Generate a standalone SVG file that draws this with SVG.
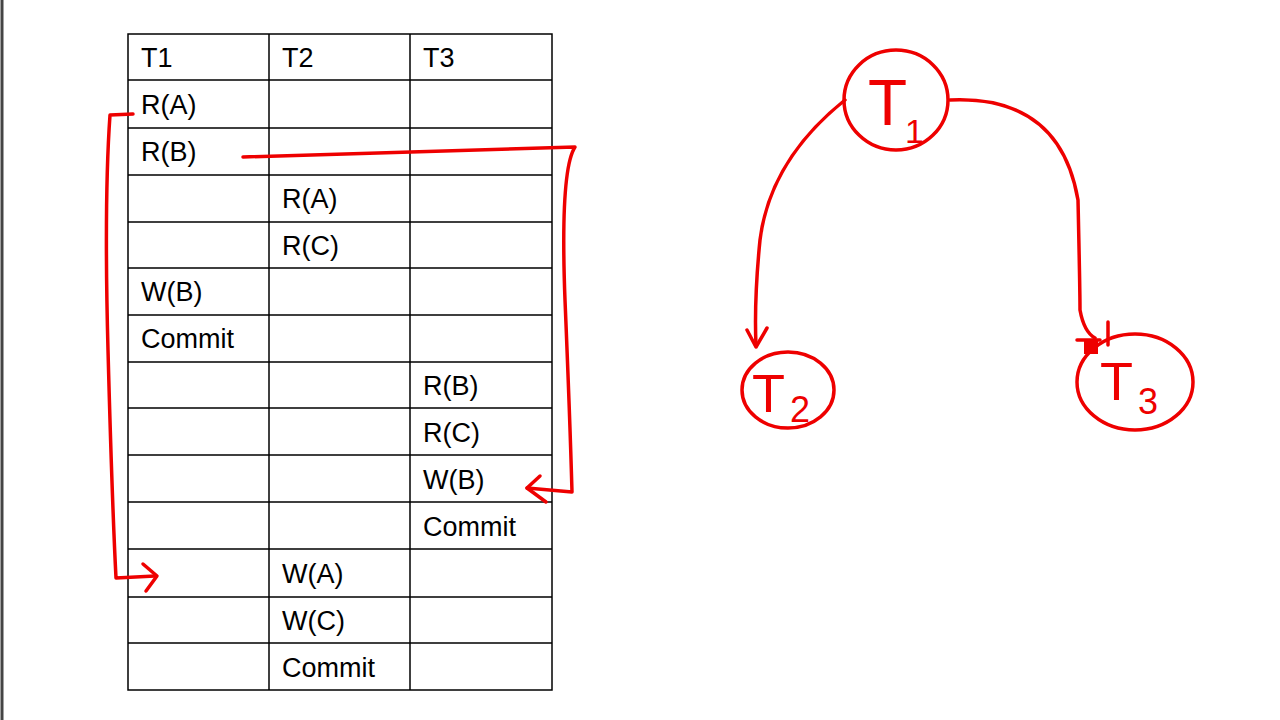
<svg xmlns="http://www.w3.org/2000/svg" width="1280" height="720" viewBox="0 0 1280 720">
<style>
.g{stroke:#000;stroke-width:1.5;fill:none}
.t{font-family:"Liberation Sans",Arial,sans-serif;font-size:27px;fill:#000}
.r{stroke:#e00;stroke-width:3.5;fill:none;stroke-linecap:round;stroke-linejoin:round}
.h{font-family:"Liberation Sans",Arial,sans-serif;fill:#e00}
</style>
<rect width="1280" height="720" fill="#fff"/>
<line x1="2" y1="0" x2="2" y2="720" stroke="#444" stroke-width="3"/>
<g id="table">
<rect class="g" x="128" y="34" width="424" height="656"/>
<line class="g" x1="269" y1="34" x2="269" y2="690"/>
<line class="g" x1="410" y1="34" x2="410" y2="690"/>
<path class="g" d="M128 80H552M128 128H552M128 175H552M128 222H552M128 268H552M128 315H552M128 362H552M128 408H552M128 455H552M128 502H552M128 549H552M128 597H552M128 643H552"/>
<text class="t" x="141" y="67">T1</text><text class="t" x="282" y="67">T2</text><text class="t" x="423" y="67">T3</text>
<text class="t" x="141" y="114">R(A)</text>
<text class="t" x="141" y="161">R(B)</text>
<text class="t" x="282" y="208">R(A)</text>
<text class="t" x="282" y="255">R(C)</text>
<text class="t" x="141" y="301">W(B)</text>
<text class="t" x="141" y="348">Commit</text>
<text class="t" x="423" y="395">R(B)</text>
<text class="t" x="423" y="442">R(C)</text>
<text class="t" x="423" y="489">W(B)</text>
<text class="t" x="423" y="536">Commit</text>
<text class="t" x="282" y="583">W(A)</text>
<text class="t" x="282" y="630">W(C)</text>
<text class="t" x="282" y="677">Commit</text>
</g>
<g id="connectors">
<path class="r" d="M133 114L110 115Q104 200 108 350Q112 500 116 578L155 576"/>
<path class="r" d="M143 564L157 576L146 591"/>
<path class="r" d="M243 157L575 147Q560 170 565 300Q570 420 572 492L527 488"/>
<path class="r" d="M540 476L527 488L546 502"/>
<path class="r" d="M845 100Q770 160 760 240Q754 300 756 346"/>
<path class="r" d="M747 330L756 347L767 328"/>
<path class="r" d="M950 100Q1060 95 1078 200Q1080 290 1080 310Q1084 332 1095 338"/>
<path class="r" d="M1077 340L1100 340M1108 322L1108 345" stroke-width="3"/>
<rect x="1084" y="340" width="14" height="14" fill="#e00"/>
</g>
<g id="T1"><ellipse class="r" cx="896" cy="100" rx="52" ry="50"/><text class="h" x="868" y="125" font-size="64">T</text><text class="h" x="905" y="143" font-size="34">1</text></g>
<g id="T2"><ellipse class="r" cx="788" cy="390" rx="46" ry="38"/><text class="h" x="752" y="412" font-size="54">T</text><text class="h" x="790" y="422" font-size="36">2</text></g>
<g id="T3"><ellipse class="r" cx="1135" cy="382" rx="58" ry="48"/><text class="h" x="1100" y="400" font-size="54">T</text><text class="h" x="1138" y="414" font-size="36">3</text></g>
</svg>
